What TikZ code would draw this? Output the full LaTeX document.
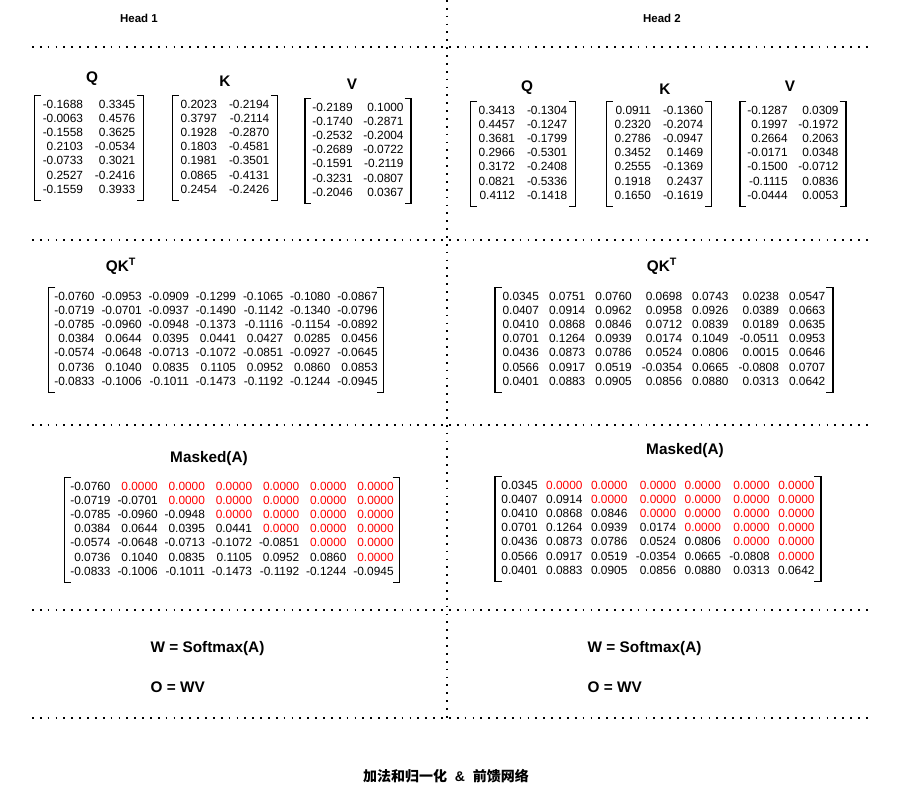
\documentclass[tikz,border=0pt]{standalone}
\usepackage{fontspec}
\setmainfont{Liberation Sans}
\newfontfamily\cjk{Noto Sans CJK SC}
\usepackage{xcolor}
\newcommand\Z{\textcolor{red}{0.0000}}
\newcommand\brk[1]{\draw[br] ([xshift=5pt]#1.north west) -- (#1.north west) -- (#1.south west) -- ([xshift=5pt]#1.south west);
 \draw[br] ([xshift=-5pt]#1.north east) -- (#1.north east) -- (#1.south east) -- ([xshift=-5pt]#1.south east);}
\begin{document}
\begin{tikzpicture}[x=0.75pt,y=-0.75pt,
 br/.style={line width=1.2pt},
 sep/.style={line width=1.4pt,dash pattern=on 1.3pt off 4.6pt},
 mat/.style={inner xsep=1.5pt,inner ysep=2pt,font=\fontsize{8.9}{10.6}\selectfont},
 ttl/.style={font=\fontsize{11.5}{13}\selectfont\bfseries},
 hd/.style={font=\fontsize{8.6}{10}\selectfont\bfseries}]
\useasboundingbox (0,0) rectangle (900,811);
\coordinate (vt) at (447,0); \coordinate (vb) at (447,720);
\draw[sep] (vt) -- (vb);
\foreach \y/\n in {47/a,240/b,425/c,610/d,718/e}{
 \coordinate (l\n) at (32,\y); \coordinate (r\n) at (870,\y);
 \draw[sep] (l\n) -- (r\n);}
\node[hd] (h1) at (139,18) {Head 1};
\node[hd] (h2) at (662,18) {Head 2};
% Head 1
\node[ttl] (q1t) at (92,79) {Q};
\node[ttl] (k1t) at (225,81) {K};
\node[ttl] (v1t) at (352,84) {V};
\node[mat] (q1) at (89,148) {\setlength\tabcolsep{4.5pt}\begin{tabular}{rr}
-0.1688&0.3345\\-0.0063&0.4576\\-0.1558&0.3625\\0.2103&-0.0534\\-0.0733&0.3021\\0.2527&-0.2416\\-0.1559&0.3933\end{tabular}};
\node[mat] (k1) at (225,148) {\setlength\tabcolsep{4.5pt}\begin{tabular}{rr}
0.2023&-0.2194\\0.3797&-0.2114\\0.1928&-0.2870\\0.1803&-0.4581\\0.1981&-0.3501\\0.0865&-0.4131\\0.2454&-0.2426\end{tabular}};
\node[mat] (v1) at (358,151) {\setlength\tabcolsep{4pt}\begin{tabular}{rr}
-0.2189&0.1000\\-0.1740&-0.2871\\-0.2532&-0.2004\\-0.2689&-0.0722\\-0.1591&-0.2119\\-0.3231&-0.0807\\-0.2046&0.0367\end{tabular}};
% Head 2
\node[ttl] (q2t) at (527,88) {Q};
\node[ttl] (k2t) at (665,89) {K};
\node[ttl] (v2t) at (790,86) {V};
\node[mat] (q2) at (523,154) {\setlength\tabcolsep{4.5pt}\begin{tabular}{rr}
0.3413&-0.1304\\0.4457&-0.1247\\0.3681&-0.1799\\0.2966&-0.5301\\0.3172&-0.2408\\0.0821&-0.5336\\0.4112&-0.1418\end{tabular}};
\node[mat] (k2) at (659,154) {\setlength\tabcolsep{4.5pt}\begin{tabular}{rr}
0.0911&-0.1360\\0.2320&-0.2074\\0.2786&-0.0947\\0.3452&0.1469\\0.2555&-0.1369\\0.1918&0.2437\\0.1650&-0.1619\end{tabular}};
\node[mat] (v2) at (793,154) {\setlength\tabcolsep{4pt}\begin{tabular}{rr}
-0.1287&0.0309\\0.1997&-0.1972\\0.2664&0.2063\\-0.0171&0.0348\\-0.1500&-0.0712\\-0.1115&0.0836\\-0.0444&0.0053\end{tabular}};
% QK^T
\node[ttl] (s1t) at (121,266) {QK$^{\mathbf{T}}$};
\node[ttl] (s2t) at (662,266) {QK$^{\mathbf{T}}$};
\node[mat] (s1) at (216,340) {\setlength\tabcolsep{2.6pt}\begin{tabular}{rrrrrrr}
-0.0760&-0.0953&-0.0909&-0.1299&-0.1065&-0.1080&-0.0867\\
-0.0719&-0.0701&-0.0937&-0.1490&-0.1142&-0.1340&-0.0796\\
-0.0785&-0.0960&-0.0948&-0.1373&-0.1116&-0.1154&-0.0892\\
0.0384&0.0644&0.0395&0.0441&0.0427&0.0285&0.0456\\
-0.0574&-0.0648&-0.0713&-0.1072&-0.0851&-0.0927&-0.0645\\
0.0736&0.1040&0.0835&0.1105&0.0952&0.0860&0.0853\\
-0.0833&-0.1006&-0.1011&-0.1473&-0.1192&-0.1244&-0.0945\end{tabular}};
\node[mat] (s2) at (664,340) {\setlength\tabcolsep{3.8pt}\begin{tabular}{rrrrrrr}
0.0345&0.0751&0.0760&0.0698&0.0743&0.0238&0.0547\\
0.0407&0.0914&0.0962&0.0958&0.0926&0.0389&0.0663\\
0.0410&0.0868&0.0846&0.0712&0.0839&0.0189&0.0635\\
0.0701&0.1264&0.0939&0.0174&0.1049&-0.0511&0.0953\\
0.0436&0.0873&0.0786&0.0524&0.0806&0.0015&0.0646\\
0.0566&0.0917&0.0519&-0.0354&0.0665&-0.0808&0.0707\\
0.0401&0.0883&0.0905&0.0856&0.0880&0.0313&0.0642\end{tabular}};
% Masked
\node[ttl] (m1t) at (209,459) {Masked(A)};
\node[ttl] (m2t) at (685,451) {Masked(A)};
\node[mat] (m1) at (232,530) {\setlength\tabcolsep{2.6pt}\begin{tabular}{rrrrrrr}
-0.0760&\Z&\Z&\Z&\Z&\Z&\Z\\
-0.0719&-0.0701&\Z&\Z&\Z&\Z&\Z\\
-0.0785&-0.0960&-0.0948&\Z&\Z&\Z&\Z\\
0.0384&0.0644&0.0395&0.0441&\Z&\Z&\Z\\
-0.0574&-0.0648&-0.0713&-0.1072&-0.0851&\Z&\Z\\
0.0736&0.1040&0.0835&0.1105&0.0952&0.0860&\Z\\
-0.0833&-0.1006&-0.1011&-0.1473&-0.1192&-0.1244&-0.0945\end{tabular}};
\node[mat] (m2) at (658,529) {\setlength\tabcolsep{3.2pt}\begin{tabular}{rrrrrrr}
0.0345&\Z&\Z&\Z&\Z&\Z&\Z\\
0.0407&0.0914&\Z&\Z&\Z&\Z&\Z\\
0.0410&0.0868&0.0846&\Z&\Z&\Z&\Z\\
0.0701&0.1264&0.0939&0.0174&\Z&\Z&\Z\\
0.0436&0.0873&0.0786&0.0524&0.0806&\Z&\Z\\
0.0566&0.0917&0.0519&-0.0354&0.0665&-0.0808&\Z\\
0.0401&0.0883&0.0905&0.0856&0.0880&0.0313&0.0642\end{tabular}};
\foreach \m in {q1,k1,v1,q2,k2,v2,s1,s2,m1,m2}{\brk{\m}}
% formulas
\node[ttl,anchor=west] (w1) at (146,649) {W = Softmax(A)};
\node[ttl,anchor=west] (o1) at (146,687) {O = WV};
\node[ttl,anchor=west] (w2) at (583,649) {W = Softmax(A)};
\node[ttl,anchor=west] (o2) at (583,687) {O = WV};
\node[font=\fontsize{10.5}{12}\selectfont\bfseries] (ff) at (446,776) {{\cjk 加法和归一化}\ \ \&\ \ {\cjk 前馈网络}};
\end{tikzpicture}
\end{document}
